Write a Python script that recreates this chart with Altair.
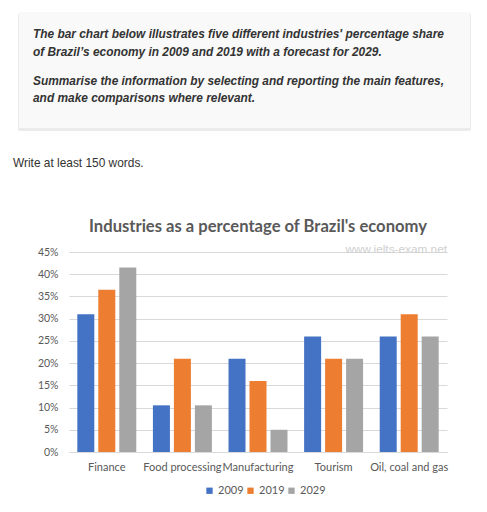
import altair as alt
import pandas as pd

categories = ["Finance", "Food processing", "Manufacturing", "Tourism", "Oil, coal and gas"]
years = ["2009", "2019", "2029"]
v2009 = [0.31, 0.105, 0.21, 0.26, 0.26]
v2019 = [0.365, 0.21, 0.16, 0.21, 0.31]
v2029 = [0.415, 0.105, 0.05, 0.21, 0.26]
colors = ["#4472C4", "#ED7D31", "#A5A5A5"]

prompt_lines = [
    "The bar chart below illustrates five different industries' percentage share",
    "of Brazil\u2019s economy in 2009 and 2019 with a forecast for 2029.",
    "Summarise the information by selecting and reporting the main features,",
    "and make comparisons where relevant.",
]
instruction = "Write at least 150 words."
title_text = "Industries as a percentage of Brazil's economy"
watermark = "www.ielts-exam.net"

rows = []
for yr, vals in zip(years, [v2009, v2019, v2029]):
    for c, v in zip(categories, vals):
        rows.append({"Industry": c, "Year": yr, "Share": v})
df = pd.DataFrame(rows)

# plot area origin in page coordinates
OX, OY = 69, 252
W, H = 378, 200

one = pd.DataFrame([{"k": 0}])

shadow = alt.Chart(one).mark_rect(color="#000000", opacity=0.08, cornerRadius=2).encode(
    x=alt.value(19 - OX - 1), x2=alt.value(470 - OX + 1),
    y=alt.value(12 - OY + 1), y2=alt.value(128 - OY + 3),
)
box = alt.Chart(one).mark_rect(color="#f9f9f9").encode(
    x=alt.value(19 - OX), x2=alt.value(470 - OX),
    y=alt.value(12 - OY), y2=alt.value(128 - OY),
)

line_y = [34, 52, 81, 98]
prompt_layers = []
for txt, yy in zip(prompt_lines, line_y):
    prompt_layers.append(
        alt.Chart(one).mark_text(
            text=txt, align="left", baseline="middle", font="Liberation Sans",
            fontSize=11.9, fontWeight="bold", fontStyle="italic", color="#333333",
        ).encode(x=alt.value(33 - OX), y=alt.value(yy - OY))
    )

instr = alt.Chart(one).mark_text(
    text=instruction, align="left", baseline="middle", font="Liberation Sans",
    fontSize=11.9, color="#333333",
).encode(x=alt.value(13 - OX), y=alt.value(163 - OY))

title = alt.Chart(one).mark_text(
    text=title_text, align="center", baseline="middle", font="Lato",
    fontSize=16.6, fontWeight="bold", color="#595959",
).encode(x=alt.value(258 - OX), y=alt.value(227 - OY))

wm = alt.Chart(one).mark_text(
    text=watermark, align="right", baseline="middle", font="Liberation Sans",
    fontSize=11.8, color="#cfcfcf",
).encode(x=alt.value(447 - OX), y=alt.value(249 - OY))

bars = alt.Chart(df).mark_bar().encode(
    x=alt.X("Industry:N", sort=categories,
            scale=alt.Scale(paddingInner=0.22, paddingOuter=0.11),
            axis=alt.Axis(title=None, labelAngle=0, labelFont="Lato", labelFontSize=11,
                          labelColor="#595959", labelPadding=9, ticks=False,
                          domainColor="#d9d9d9", grid=False)),
    xOffset=alt.XOffset("Year:N", sort=years, scale=alt.Scale(paddingInner=0.19, paddingOuter=0)),
    y=alt.Y("Share:Q",
            scale=alt.Scale(domain=[0, 0.45], nice=False),
            axis=alt.Axis(title=None, format=".0%", values=[i * 0.05 for i in range(10)],
                          labelFont="Lato", labelFontSize=10.5, labelColor="#595959",
                          labelPadding=11, ticks=False, domain=False,
                          gridColor="#d9d9d9")),
    color=alt.Color("Year:N", sort=years, scale=alt.Scale(domain=years, range=colors),
                    legend=alt.Legend(title=None, orient="none", direction="horizontal",
                                      legendX=135, legendY=233, symbolType="square",
                                      symbolSize=40, labelFont="Lato", labelFontSize=11,
                                      labelColor="#595959", columnPadding=1, labelOffset=3,
                                      symbolStrokeWidth=0)),
)

chart = alt.layer(shadow, box, *prompt_layers, instr, title, wm, bars).properties(
    width=W, height=H,
    padding={"left": OX, "top": OY, "right": 487 - OX - W, "bottom": 512 - OY - H},
    autosize=alt.AutoSizeParams(type="none"),
    background="white",
).configure_view(stroke=None)

chart.save("out.html", embed_options={"renderer": "svg", "actions": False})
